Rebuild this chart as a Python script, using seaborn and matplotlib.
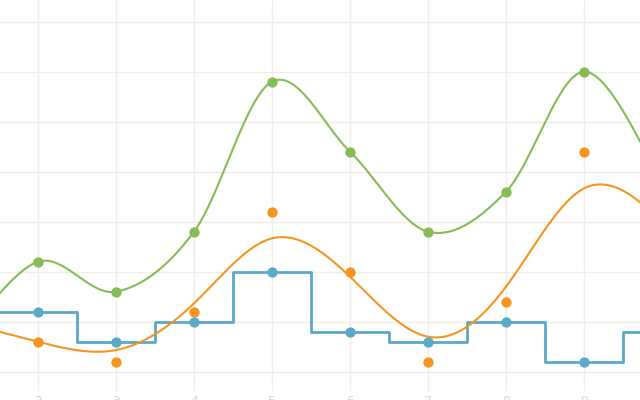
import numpy as np
import matplotlib
matplotlib.use("Agg")
import matplotlib.pyplot as plt
import seaborn as sns

# data (x = 1..10)
x_vals = [1, 2, 3, 4, 5, 6, 7, 8, 9, 10]
blue_vals = [6, 6, 3, 5, 10, 4, 3, 5, 1, 4]
green_vals = [3, 11, 8, 14, 29, 22, 14, 18, 30, 19]
orange_vals = [5, 3, 1, 6, 16, 10, 1, 7, 22, 15]
x_ticks = [2, 3, 4, 5, 6, 7, 8, 9]

BLUE = "#5aa9c6"
GREEN = "#86bc55"
ORANGE = "#f5951f"
GRID = "#f1eee7"


def cardinal_spline(x, y, n_per=40):
    # Catmull-Rom style curve through the points (end points repeated)
    p = np.column_stack([x, y]).astype(float)
    ext = np.vstack([p[:1], p, p[-1:]])
    t = np.linspace(0, 1, n_per)[:, None]
    h00 = 2 * t ** 3 - 3 * t ** 2 + 1
    h10 = t ** 3 - 2 * t ** 2 + t
    h01 = -2 * t ** 3 + 3 * t ** 2
    h11 = t ** 3 - t ** 2
    segs = []
    for i in range(len(p) - 1):
        m0 = (ext[i + 2] - ext[i]) / 2
        m1 = (ext[i + 3] - ext[i + 1]) / 2
        segs.append(h00 * p[i] + h10 * m0 + h01 * p[i + 1] + h11 * m1)
    out = np.vstack(segs)
    return out[:, 0], out[:, 1]


def basis_spline(x, y, n_per=40):
    # uniform cubic B-spline using the points as control points
    px = np.concatenate([[x[0]] * 2, x, [x[-1]] * 2]).astype(float)
    py = np.concatenate([[y[0]] * 2, y, [y[-1]] * 2]).astype(float)
    t = np.linspace(0, 1, n_per)
    b0 = (1 - t) ** 3 / 6
    b1 = (3 * t ** 3 - 6 * t ** 2 + 4) / 6
    b2 = (-3 * t ** 3 + 3 * t ** 2 + 3 * t + 1) / 6
    b3 = t ** 3 / 6
    xs, ys = [], []
    for i in range(len(px) - 3):
        xs.append(b0 * px[i] + b1 * px[i + 1] + b2 * px[i + 2] + b3 * px[i + 3])
        ys.append(b0 * py[i] + b1 * py[i + 1] + b2 * py[i + 2] + b3 * py[i + 3])
    return np.concatenate(xs), np.concatenate(ys)


sns.set_theme(style="white")
fig = plt.figure(figsize=(6.4, 4), dpi=100)
ax = fig.add_axes([0, 9 / 400, 1, 391 / 400])

# grid
for gy in range(0, 40, 5):
    ax.axhline(gy, color=GRID, lw=1, zorder=0)
for gx in x_vals:
    ax.axvline(gx, color=GRID, lw=1, zorder=0)

# blue step line
sns.lineplot(x=x_vals, y=blue_vals, drawstyle="steps-mid", color=BLUE,
             lw=2, ax=ax, zorder=2)

# orange smoothed line
ox, oy = basis_spline(x_vals, orange_vals)
sns.lineplot(x=ox, y=oy, sort=False, estimator=None, color=ORANGE,
             lw=1.5, ax=ax, zorder=3)

# green curve through the points
gx_, gy_ = cardinal_spline(x_vals, green_vals)
sns.lineplot(x=gx_, y=gy_, sort=False, estimator=None, color=GREEN,
             lw=1.5, ax=ax, zorder=3)

# markers
sns.scatterplot(x=x_vals, y=blue_vals, color=BLUE, s=55, linewidth=0, ax=ax, zorder=4)
sns.scatterplot(x=x_vals, y=orange_vals, color=ORANGE, s=55, linewidth=0, ax=ax, zorder=4)
sns.scatterplot(x=x_vals, y=green_vals, color=GREEN, s=55, linewidth=0, ax=ax, zorder=4)

ax.set_xlim(2 - 38 / 78, 2 + 602 / 78)
ax.set_ylim(-1.93, 37.17)
ax.set_xticks(x_ticks)
ax.set_xticklabels([str(t) for t in x_ticks])
ax.set_yticks([])
ax.tick_params(axis="x", length=0, pad=3, labelsize=9, colors="#d6d6d6")
for s in ax.spines.values():
    s.set_visible(False)
ax.set_xlabel("")
ax.set_ylabel("")

fig.savefig("out.png", dpi=100)
